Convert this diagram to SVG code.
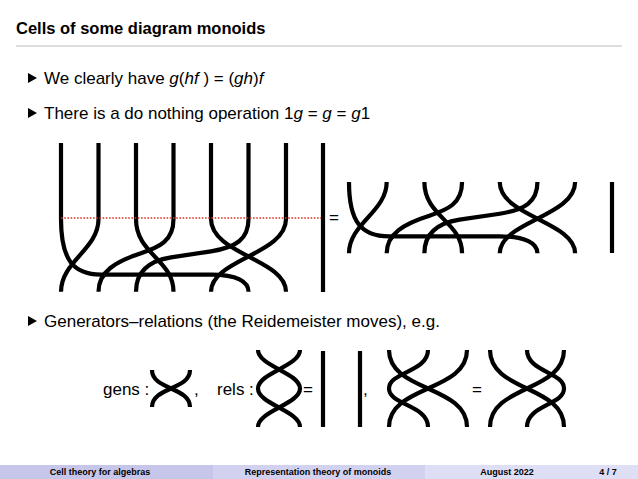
<svg xmlns="http://www.w3.org/2000/svg" width="638" height="479" viewBox="0 0 638 479">
<style>
text{font-family:"Liberation Sans",Arial,sans-serif;fill:#000}
.s{fill:none;stroke:#000;stroke-width:4.2;stroke-linecap:butt}
.t{font-size:17px}
.m{font-style:italic}
.f{font-size:9px;font-weight:bold}
</style>
<defs>
<g id="perm">
<path class="s" d="M37.5,0 C37.5,30 0,42 0,72"/>
<path class="s" d="M0,0 C0,40 12,55 40,55 L150,55 C176,55 187.5,62 187.5,72"/>
<path class="s" d="M75,0 C75,35 112.5,40 112.5,72"/>
<path class="s" d="M112.5,0 C112.5,22 98,28 80,34 C55,42 37.5,52 37.5,72"/>
<path class="s" d="M150,0 C150,35 225,40 225,72"/>
<path class="s" d="M187.5,0 C187.5,20 175,28 150,32 L110,38 C85,42 75,55 75,72"/>
<path class="s" d="M225,0 C225,35 150,40 150,72"/>
</g>
</defs>
<rect width="638" height="479" fill="#fff"/>
<text x="16" y="34" style="font-size:16.5px;font-weight:bold">Cells of some diagram monoids</text>
<line x1="16" y1="46" x2="622" y2="46" stroke="#aaa" stroke-width="0.8"/>
<g id="bullets">
<path d="M28,73 L37,78 L28,83Z"/>
<text class="t" x="44" y="84">We clearly have <tspan class="m">g</tspan>(<tspan class="m">hf</tspan> ) = (<tspan class="m">gh</tspan>)<tspan class="m">f</tspan></text>
<path d="M28,108 L37,113 L28,118Z"/>
<text class="t" x="44" y="119">There is a do nothing operation 1<tspan class="m">g</tspan> = <tspan class="m">g</tspan> = <tspan class="m">g</tspan>1</text>
<path d="M28,316 L37,321 L28,326Z"/>
<text class="t" x="44" y="327">Generators–relations (the Reidemeister moves), e.g.</text>
</g>
<g id="left-diagram">
<g class="s">
<line x1="61" y1="143" x2="61" y2="219"/><line x1="98.5" y1="143" x2="98.5" y2="219"/>
<line x1="136" y1="143" x2="136" y2="219"/><line x1="173.5" y1="143" x2="173.5" y2="219"/>
<line x1="211" y1="143" x2="211" y2="219"/><line x1="248.5" y1="143" x2="248.5" y2="219"/>
<line x1="286" y1="143" x2="286" y2="219"/>
<line x1="323" y1="143" x2="323" y2="292"/>
</g>
<use href="#perm" transform="translate(61,219) scale(1,1.01)"/>
<line x1="61" y1="218" x2="321" y2="218" stroke="#e03020" stroke-width="1.6" stroke-dasharray="1.6,1.6"/>
</g>
<text class="t" x="329" y="223">=</text>
<g id="right-diagram">
<use href="#perm" transform="translate(349,182) scale(1.005,0.99)"/>
<line class="s" x1="612" y1="182" x2="612" y2="253"/>
</g>
<g id="gens">
<text class="t" x="103" y="395">gens :</text>
<path class="s" d="M152,370 C152,390 190,387 190,407"/>
<path class="s" d="M190,370 C190,390 152,387 152,407"/>
<text class="t" x="194" y="395">,</text>
</g>
<g id="rels">
<text class="t" x="217" y="395">rels :</text>
<path class="s" d="M258,350 C258,366 300,373 300,388.5 C300,404 258,411 258,427"/>
<path class="s" d="M300,350 C300,366 258,373 258,388.5 C258,404 300,411 300,427"/>
<text class="t" x="303" y="395">=</text>
<line class="s" x1="323" y1="351" x2="323" y2="427"/>
<line class="s" x1="360" y1="351" x2="360" y2="427"/>
<text class="t" x="363" y="395">,</text>
<path class="s" d="M389,350 C389,392 467,385 467,427"/>
<path class="s" d="M467,350 C467,392 389,385 389,427"/>
<path class="s" d="M428,350 C428,372 389,372 389,388.5 C389,405 428,405 428,427"/>
<text class="t" x="472" y="395">=</text>
<path class="s" d="M490,350 C490,392 564,385 564,427"/>
<path class="s" d="M564,350 C564,392 490,385 490,427"/>
<path class="s" d="M527,350 C527,372 564,372 564,388.5 C564,405 527,405 527,427"/>
</g>
<g id="footer">
<rect x="0" y="465" width="213" height="14" fill="#c6c6ea"/>
<rect x="213" y="465" width="212" height="14" fill="#d2d2f0"/>
<rect x="425" y="465" width="213" height="14" fill="#dedef5"/>
<text class="f" x="100" y="475" text-anchor="middle">Cell theory for algebras</text>
<text class="f" x="318" y="475" text-anchor="middle">Representation theory of monoids</text>
<text class="f" x="507" y="475" text-anchor="middle">August 2022</text>
<text class="f" x="608" y="475" text-anchor="middle">4 / 7</text>
</g>
</svg>
